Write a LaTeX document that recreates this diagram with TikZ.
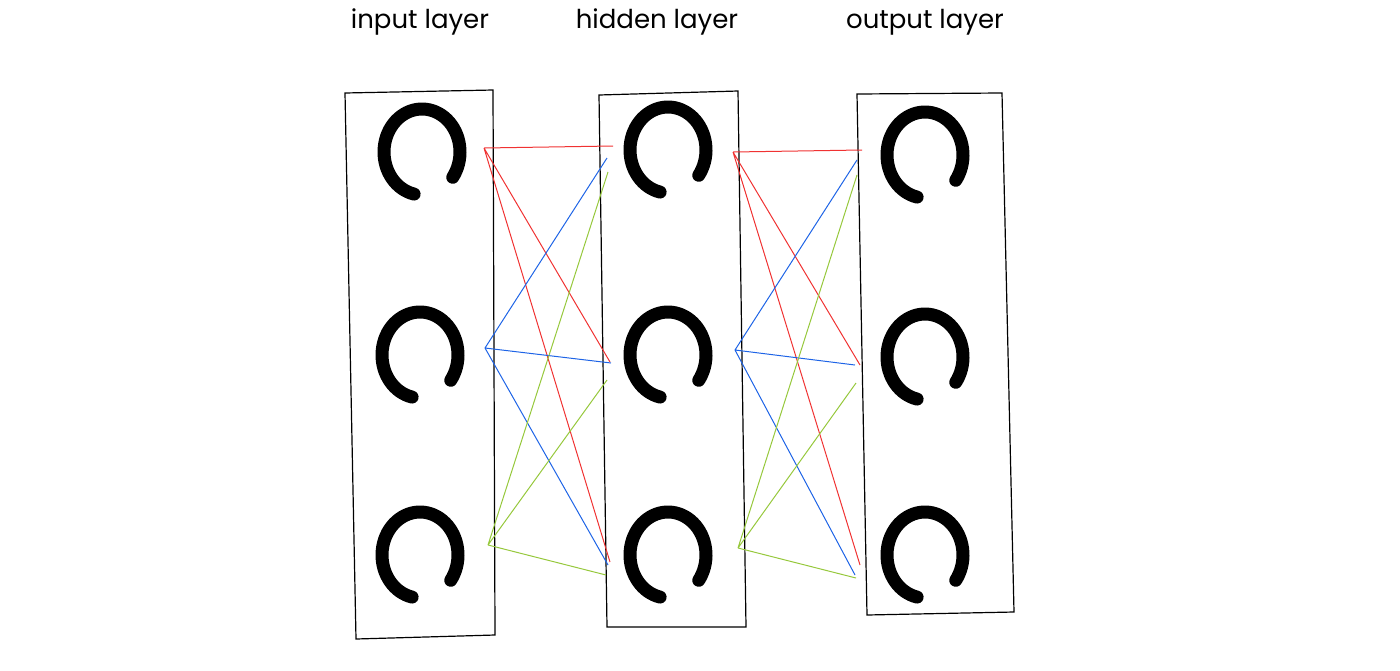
\documentclass[tikz,border=0pt]{standalone}
\usepackage{fontspec}
\setmainfont{Poppins}
\begin{document}
\begin{tikzpicture}[x=1pt,y=-1pt,
  box/.style={draw=black,line width=1.2pt},
  ring/.style={draw=black,line width=13pt,line cap=round},
  lbl/.style={font=\fontsize{26}{30}\selectfont},
  r/.style={draw={rgb,255:red,240;green,50;blue,50},line width=1pt},
  b/.style={draw={rgb,255:red,30;green,100;blue,230},line width=1pt},
  g/.style={draw={rgb,255:red,150;green,200;blue,60},line width=1pt}]
\useasboundingbox (0,0) rectangle (1400,670);
\draw[box] (345,93)--(493,90)--(495,635)--(356,639)--cycle;
\draw[box] (599,95)--(738,91)--(746,627)--(607,627)--cycle;
\draw[box] (857,94)--(1002,93)--(1014,612)--(867,615)--cycle;
\node[lbl] (l1) at (420,22) {input layer};
\node[lbl] (l2) at (657,22) {hidden layer};
\node[lbl] (l3) at (925,22) {output layer};
\foreach \cx/\cy in {422/152,420/355,420/555,668/150,668/355,668/555,925/155,925/357,925/555}
  \draw[ring] plot[domain=-36:258,samples=60,smooth] ({\cx+38*cos(\x)},{\cy-43*sin(\x)});
\coordinate (ir) at (484,148); \coordinate (ib) at (485,348); \coordinate (ig) at (488,545);
\coordinate (h1r) at (613,146); \coordinate (h2r) at (610,362); \coordinate (h3r) at (610,562);
\coordinate (h1b) at (607,158); \coordinate (h2b) at (611,363); \coordinate (h3b) at (608,565);
\coordinate (h1g) at (608,172); \coordinate (h2g) at (607,380); \coordinate (h3g) at (606,575);
\coordinate (hr) at (733,152); \coordinate (hb) at (735,350); \coordinate (hg) at (738,548);
\coordinate (o1r) at (862,150); \coordinate (o2r) at (860,365); \coordinate (o3r) at (860,565);
\coordinate (o1b) at (857,160); \coordinate (o2b) at (855,365); \coordinate (o3b) at (855,575);
\coordinate (o1g) at (857,175); \coordinate (o2g) at (856,383); \coordinate (o3g) at (856,578);
\draw[r] (ir)--(h1r) (ir)--(h2r) (ir)--(h3r);
\draw[b] (ib)--(h1b) (ib)--(h2b) (ib)--(h3b);
\draw[g] (ig)--(h1g) (ig)--(h2g) (ig)--(h3g);
\draw[r] (hr)--(o1r) (hr)--(o2r) (hr)--(o3r);
\draw[b] (hb)--(o1b) (hb)--(o2b) (hb)--(o3b);
\draw[g] (hg)--(o1g) (hg)--(o2g) (hg)--(o3g);
\end{tikzpicture}
\end{document}
